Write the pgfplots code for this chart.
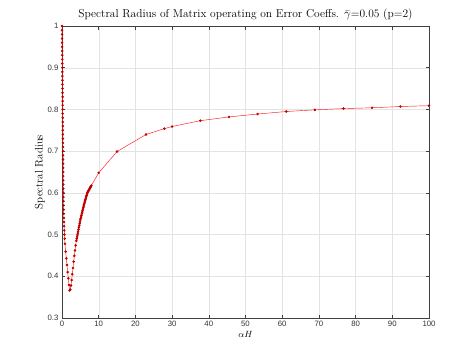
\documentclass[border=0pt]{standalone}
\usepackage{pgfplots}
\pgfplotsset{compat=1.18}
\usepackage{fontspec}
\newfontfamily\ticksf{Liberation Sans}
\begin{document}
\begin{tikzpicture}
\path[use as bounding box] (-62bp,-37bp) rectangle (412bp,318bp);
\begin{axis}[
  at={(0,0)}, anchor=south west,
  scale only axis, width=367bp, height=292bp,
  xmin=0, xmax=100, ymin=0.3, ymax=1,
  xtick={0,10,...,100}, ytick={0.3,0.4,...,1.0},
  yticklabels={0.3,0.4,0.5,0.6,0.7,0.8,0.9,1},
  grid=major, major grid style={gray!22, line width=0.4pt},
  axis line style={black!75, line width=0.5pt},
  tick style={black!75, line width=0.5pt},
  tick align=inside, major tick length=3.5bp,
  ticklabel style={font=\ticksf\fontsize{7.8}{9}\selectfont, text=black!80},
  /pgf/number format/assume math mode=true,
  xlabel={$\alpha H$}, ylabel={Spectral Radius},
  xlabel style={font=\fontsize{9}{10}\selectfont, yshift=2bp},
  ylabel style={font=\fontsize{11}{13}\selectfont, yshift=-4bp},
  title={Spectral Radius of Matrix operating on Error Coeffs. $\bar{\gamma}$=0.05 (p=2)},
  title style={font=\fontsize{11.5}{13}\selectfont, yshift=-4bp},
  clip=false,
]
\addplot[red!90, line width=0.45pt, mark=*, mark size=1.05pt,
  mark options={fill=red!75!black, draw=red!75!black}] coordinates {
(0.000,1.00)(0.009,0.99)(0.018,0.98)(0.027,0.97)(0.036,0.96)(0.045,0.95)
(0.054,0.94)(0.063,0.93)(0.072,0.92)(0.081,0.91)(0.090,0.90)(0.099,0.89)
(0.108,0.88)(0.117,0.87)(0.126,0.86)(0.135,0.85)(0.144,0.84)(0.153,0.83)
(0.162,0.82)(0.171,0.81)(0.180,0.80)(0.189,0.79)(0.198,0.78)(0.207,0.77)
(0.216,0.76)(0.225,0.75)(0.234,0.74)(0.243,0.73)(0.252,0.72)(0.261,0.71)
(0.270,0.70)(0.279,0.69)(0.288,0.68)(0.297,0.67)(0.306,0.66)(0.315,0.65)
(0.324,0.64)(0.333,0.63)(0.342,0.62)(0.351,0.61)(0.360,0.60)
(0.38,0.59)(0.40,0.58)(0.42,0.57)(0.44,0.56)(0.47,0.55)(0.50,0.54)
(0.54,0.53)(0.58,0.52)(0.62,0.51)(0.66,0.50)(0.72,0.49)(0.80,0.478)
(0.99,0.459)(1.17,0.443)(1.36,0.427)(1.54,0.410)(1.72,0.395)(1.90,0.379)
(2.07,0.366)(2.26,0.368)(2.45,0.378)(2.63,0.391)(2.81,0.405)(3.00,0.420)
(3.18,0.435)(3.36,0.449)(3.54,0.462)(3.72,0.474)(3.90,0.485)
(4.0,0.490)(4.1,0.4945)(4.2,0.499)(4.3,0.5035)(4.4,0.508)(4.5,0.5125)
(4.6,0.517)(4.7,0.5215)(4.8,0.526)(4.9,0.5305)(5.0,0.535)(5.1,0.5387)
(5.2,0.5424)(5.3,0.5461)(5.4,0.5498)(5.5,0.5535)(5.6,0.5572)(5.7,0.5609)
(5.8,0.5646)(5.9,0.5683)(6.0,0.572)(6.1,0.5751)(6.2,0.5782)(6.3,0.5813)
(6.4,0.5844)(6.5,0.5875)(6.6,0.5906)(6.7,0.5937)(6.8,0.5968)(6.9,0.600)
(7.0,0.6016)(7.1,0.6032)(7.2,0.6048)(7.3,0.6064)(7.4,0.608)(7.5,0.6096)
(7.6,0.6112)(7.7,0.6128)(7.8,0.6144)(7.9,0.616)(8.0,0.6176)
(10.0,0.648)(15.0,0.699)(22.9,0.740)(27.9,0.754)(30.0,0.759)(37.7,0.773)
(45.5,0.782)(53.3,0.789)(61.1,0.795)(68.9,0.799)(76.7,0.802)(84.5,0.804)
(92.2,0.807)(100,0.809)
};
\end{axis}
\end{tikzpicture}
\end{document}
